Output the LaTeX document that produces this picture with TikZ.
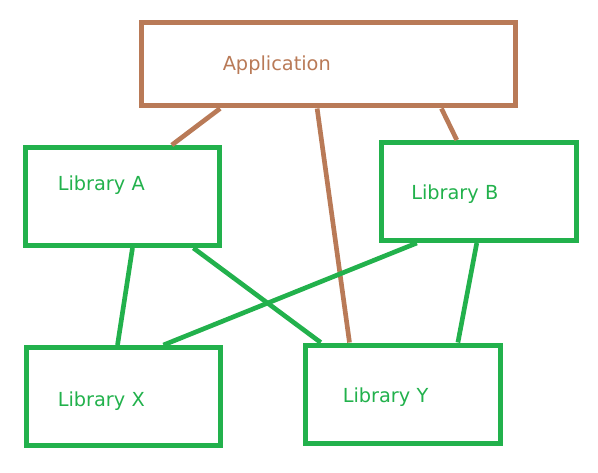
\documentclass[tikz,border=0pt]{standalone}
\usepackage{fontspec}
\setmainfont{DejaVu Sans}
\usetikzlibrary{calc}
\definecolor{app}{HTML}{B97A57}
\definecolor{lib}{HTML}{22B14C}

\begin{document}
\begin{tikzpicture}[x=0.75pt,y=-0.75pt,
  appbox/.style={draw=app,line width=3.75pt,minimum width=280.5pt,minimum height=62.6pt,inner sep=0pt},
  libbox/.style={draw=lib,line width=3.75pt,minimum width=146pt,minimum height=73.5pt,inner sep=0pt},
  applink/.style={app,line width=3.5pt},
  liblink/.style={lib,line width=3.5pt},
  lbl/.style={anchor=base west,inner sep=0pt,font=\fontsize{14.5}{17}\selectfont}]
  \useasboundingbox (0,0) rectangle (598,472);

  % Boxes
  \node[appbox] (app) at (328.5,64.25) {};
  \node[libbox] (liba) at (122.5,196.5) {};
  \node[libbox] (libb) at (478.75,191.5) {};
  \node[libbox] (libx) at (123.5,396.5) {};
  \node[libbox] (liby) at (403,394) {};

  % Labels
  \node[lbl,app] (applbl) at (222.5,70) {Application};
  \node[lbl,lib] (libalbl) at (57.5,190) {Library A};
  \node[lbl,lib] (libblbl) at (411,199) {Library B};
  \node[lbl,lib] (libxlbl) at (57.5,406) {Library X};
  \node[lbl,lib] (libylbl) at (342.5,402.5) {Library Y};

  % Application dependencies
  \draw[applink] ($(app.south west)!0.214!(app.south east)$) -- ($(liba.north west)!0.747!(liba.north east)$);
  \draw[applink] ($(app.south west)!0.47!(app.south east)$) -- ($(liby.north west)!0.232!(liby.north east)$);
  \draw[applink] ($(app.south west)!0.798!(app.south east)$) -- ($(libb.north west)!0.39!(libb.north east)$);

  % Library dependencies
  \draw[liblink] ($(liba.south west)!0.55!(liba.south east)$) -- ($(libx.north west)!0.47!(libx.north east)$);
  \draw[liblink] ($(liba.south west)!0.855!(liba.south east)$) -- ($(liby.north west)!0.088!(liby.north east)$);
  \draw[liblink] ($(libb.south west)!0.19!(libb.south east)$) -- ($(libx.north west)!0.70!(libx.north east)$);
  \draw[liblink] ($(libb.south west)!0.49!(libb.south east)$) -- ($(liby.north west)!0.775!(liby.north east)$);
\end{tikzpicture}
\end{document}
